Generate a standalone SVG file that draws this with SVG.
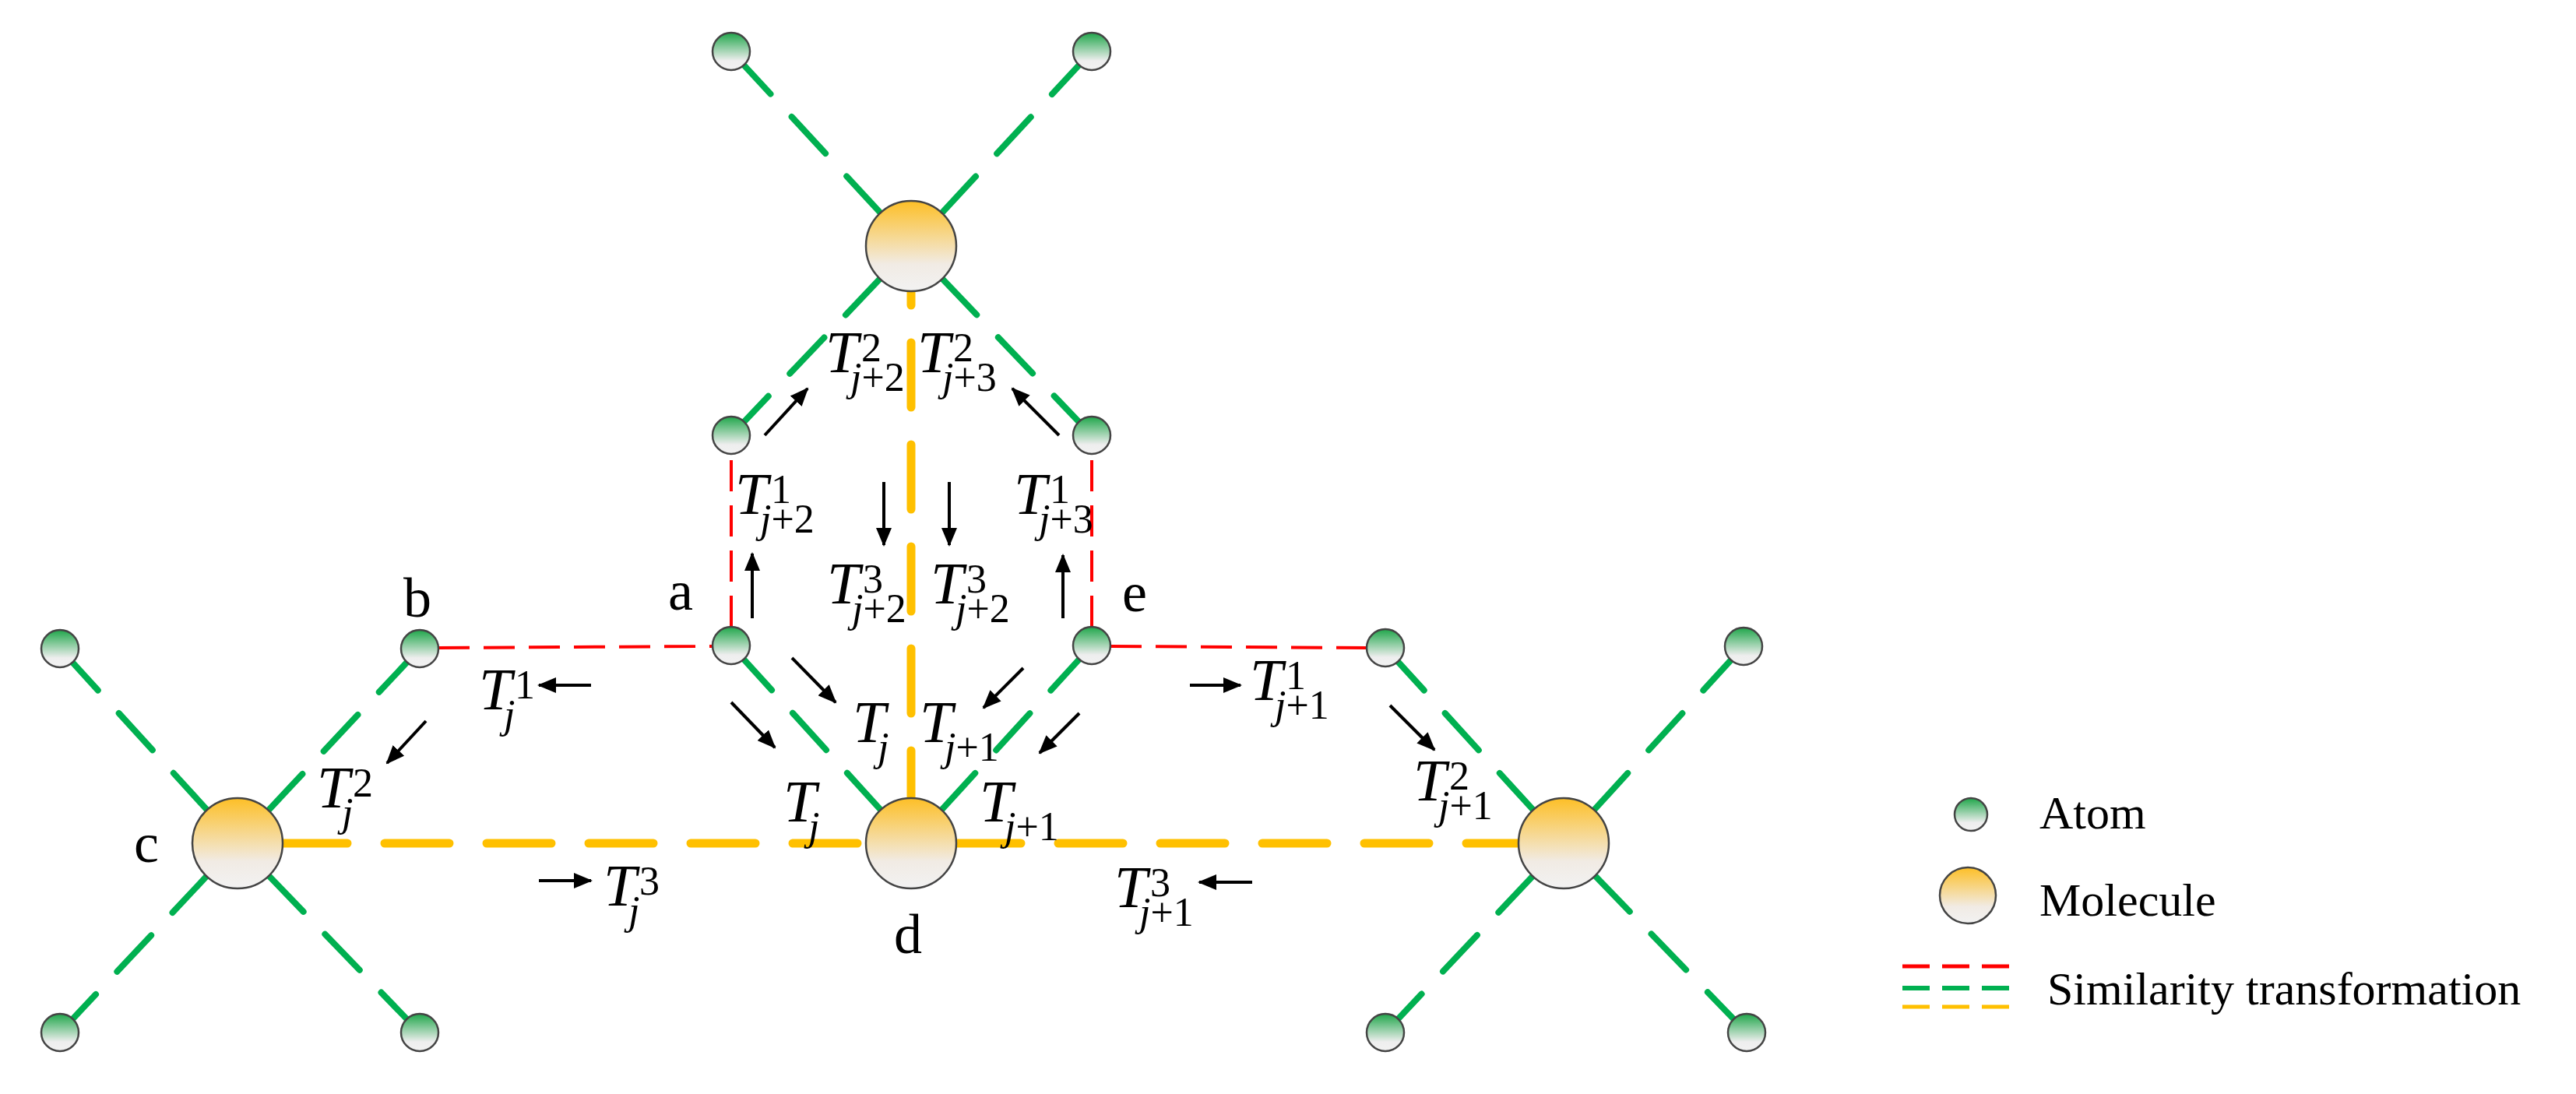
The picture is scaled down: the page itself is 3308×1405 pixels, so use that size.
<svg xmlns="http://www.w3.org/2000/svg" width="3308" height="1405" viewBox="0 0 3308 1405">
<style>
.g{stroke:#00b050;stroke-width:8;stroke-linecap:round;stroke-dasharray:64 40;stroke-dashoffset:46;fill:none}
.o{stroke:#ffc000;stroke-width:11;stroke-linecap:round;stroke-dasharray:83 48;fill:none}
.r{stroke:#ff0000;stroke-width:4;stroke-dasharray:40 18;fill:none}
.ar{stroke:#000;stroke-width:4;fill:none;marker-end:url(#ah)}
.atom{fill:url(#ga);stroke:#444;stroke-width:2.5}
.mol{fill:url(#gm);stroke:#444;stroke-width:2.5}
text{font-family:"Liberation Serif","Times New Roman",serif;fill:#000}
.T{font-size:76px;font-style:italic}
.s{font-size:52px;font-style:normal}
.si{font-size:52px;font-style:italic}
.lb{font-size:72px}
.lg{font-size:60px}
</style>
<defs>
<linearGradient id="ga" x1="0" y1="0" x2="0" y2="1"><stop offset="0" stop-color="#1fa64a"/><stop offset="0.75" stop-color="#eeeeee"/><stop offset="1" stop-color="#f2f2f2"/></linearGradient>
<linearGradient id="gm" x1="0" y1="0" x2="0" y2="1"><stop offset="0" stop-color="#fdbf26"/><stop offset="0.7" stop-color="#f1ebe4"/><stop offset="1" stop-color="#f2f2f2"/></linearGradient>
<marker id="ah" markerUnits="userSpaceOnUse" markerWidth="24" markerHeight="20" refX="22" refY="10" orient="auto"><path d="M0,0 L24,10 L0,20 Z" fill="#000"/></marker>
</defs>
<g id="connectors">
<line class="g" x1="305" y1="1083" x2="77" y2="833"/>
<line class="g" x1="305" y1="1083" x2="539" y2="833"/>
<line class="g" x1="305" y1="1083" x2="77" y2="1326"/>
<line class="g" x1="305" y1="1083" x2="539" y2="1326"/>
<line class="g" x1="1170" y1="316" x2="939" y2="66"/>
<line class="g" x1="1170" y1="316" x2="1402" y2="66"/>
<line class="g" x1="1170" y1="316" x2="939" y2="559"/>
<line class="g" x1="1170" y1="316" x2="1402" y2="559"/>
<line class="g" x1="1170" y1="1083" x2="939" y2="829"/>
<line class="g" x1="1170" y1="1083" x2="1402" y2="829"/>
<line class="g" x1="2008" y1="1083" x2="1779" y2="832"/>
<line class="g" x1="2008" y1="1083" x2="2239" y2="830"/>
<line class="g" x1="2008" y1="1083" x2="1779" y2="1326"/>
<line class="g" x1="2008" y1="1083" x2="2243" y2="1326"/>
<line class="o" x1="1170" y1="374" x2="1170" y2="1025" style="stroke-dashoffset:65"/>
<line class="o" x1="363" y1="1083" x2="1112" y2="1083"/>
<line class="o" x1="1228" y1="1083" x2="1950" y2="1083"/>
<line class="r" x1="563" y1="832" x2="915" y2="830"/>
<line class="r" x1="939" y1="805" x2="939" y2="583"/>
<line class="r" x1="1402" y1="805" x2="1402" y2="583"/>
<line class="r" x1="1426" y1="830" x2="1757" y2="832"/>
<line class="ar" x1="759" y1="880" x2="692" y2="880"/>
<line class="ar" x1="547" y1="926" x2="497" y2="980"/>
<line class="ar" x1="692" y1="1131" x2="759" y2="1131"/>
<line class="ar" x1="966" y1="794" x2="966" y2="711"/>
<line class="ar" x1="1017" y1="845" x2="1073" y2="902"/>
<line class="ar" x1="939" y1="902" x2="995" y2="960"/>
<line class="ar" x1="982" y1="559" x2="1037" y2="499"/>
<line class="ar" x1="1360" y1="559" x2="1300" y2="499"/>
<line class="ar" x1="1135" y1="619" x2="1135" y2="700"/>
<line class="ar" x1="1219" y1="619" x2="1219" y2="700"/>
<line class="ar" x1="1365" y1="794" x2="1365" y2="713"/>
<line class="ar" x1="1314" y1="858" x2="1263" y2="909"/>
<line class="ar" x1="1386" y1="916" x2="1335" y2="967"/>
<line class="ar" x1="1528" y1="880" x2="1593" y2="880"/>
<line class="ar" x1="1785" y1="906" x2="1842" y2="963"/>
<line class="ar" x1="1608" y1="1133" x2="1540" y2="1133"/>
</g>
<g id="mol-c"><circle class="mol" cx="305" cy="1083" r="58"/></g>
<g id="mol-top"><circle class="mol" cx="1170" cy="316" r="58"/></g>
<g id="mol-d"><circle class="mol" cx="1170" cy="1083" r="58"/></g>
<g id="mol-right"><circle class="mol" cx="2008" cy="1083" r="58"/></g>
<g id="atom-1"><circle class="atom" cx="77" cy="833" r="24"/></g>
<g id="atom-b"><circle class="atom" cx="539" cy="833" r="24"/></g>
<g id="atom-3"><circle class="atom" cx="77" cy="1326" r="24"/></g>
<g id="atom-4"><circle class="atom" cx="539" cy="1326" r="24"/></g>
<g id="atom-5"><circle class="atom" cx="939" cy="66" r="24"/></g>
<g id="atom-6"><circle class="atom" cx="1402" cy="66" r="24"/></g>
<g id="atom-7"><circle class="atom" cx="939" cy="559" r="24"/></g>
<g id="atom-8"><circle class="atom" cx="1402" cy="559" r="24"/></g>
<g id="atom-a"><circle class="atom" cx="939" cy="829" r="24"/></g>
<g id="atom-e"><circle class="atom" cx="1402" cy="829" r="24"/></g>
<g id="atom-11"><circle class="atom" cx="1779" cy="832" r="24"/></g>
<g id="atom-12"><circle class="atom" cx="2239" cy="830" r="24"/></g>
<g id="atom-13"><circle class="atom" cx="1779" cy="1326" r="24"/></g>
<g id="atom-14"><circle class="atom" cx="2243" cy="1326" r="24"/></g>
<g id="labels">
<text class="lb" x="858" y="783">a</text>
<text class="lb" x="518" y="792">b</text>
<text class="lb" x="172" y="1107">c</text>
<text class="lb" x="1148" y="1224">d</text>
<text class="lb" x="1441" y="785">e</text>
<text class="T" x="1060" y="478">T</text><text class="s" x="1106" y="464">2</text><text class="si" x="1092" y="502">j<tspan class="s">+2</tspan></text>
<text class="T" x="1178" y="478">T</text><text class="s" x="1224" y="464">2</text><text class="si" x="1210" y="502">j<tspan class="s">+3</tspan></text>
<text class="T" x="944" y="660">T</text><text class="s" x="990" y="646">1</text><text class="si" x="976" y="684">j<tspan class="s">+2</tspan></text>
<text class="T" x="1302" y="660">T</text><text class="s" x="1348" y="646">1</text><text class="si" x="1334" y="684">j<tspan class="s">+3</tspan></text>
<text class="T" x="1062" y="775">T</text><text class="s" x="1108" y="761">3</text><text class="si" x="1094" y="799">j<tspan class="s">+2</tspan></text>
<text class="T" x="1195" y="775">T</text><text class="s" x="1241" y="761">3</text><text class="si" x="1227" y="799">j<tspan class="s">+2</tspan></text>
<text class="T" x="1095" y="953">T</text><text class="si" x="1127" y="977">j</text>
<text class="T" x="1181" y="953">T</text><text class="si" x="1213" y="977">j<tspan class="s">+1</tspan></text>
<text class="T" x="1605" y="899">T</text><text class="s" x="1651" y="885">1</text><text class="si" x="1637" y="923">j<tspan class="s">+1</tspan></text>
<text class="T" x="1006" y="1055">T</text><text class="si" x="1038" y="1079">j</text>
<text class="T" x="1258" y="1055">T</text><text class="si" x="1290" y="1079">j<tspan class="s">+1</tspan></text>
<text class="T" x="615" y="911">T</text><text class="s" x="661" y="897">1</text><text class="si" x="647" y="935">j</text>
<text class="T" x="407" y="1037">T</text><text class="s" x="453" y="1023">2</text><text class="si" x="439" y="1061">j</text>
<text class="T" x="775" y="1163">T</text><text class="s" x="821" y="1149">3</text><text class="si" x="807" y="1187">j</text>
<text class="T" x="1815" y="1028">T</text><text class="s" x="1861" y="1014">2</text><text class="si" x="1847" y="1052">j<tspan class="s">+1</tspan></text>
<text class="T" x="1431" y="1165">T</text><text class="s" x="1477" y="1151">3</text><text class="si" x="1463" y="1189">j<tspan class="s">+1</tspan></text>
</g>
<g id="legend">
<circle class="atom" cx="2531" cy="1046" r="21"/>
<text class="lg" x="2619" y="1064">Atom</text>
<circle class="mol" cx="2527" cy="1150" r="36"/>
<text class="lg" x="2619" y="1176">Molecule</text>
<line x1="2443" y1="1241" x2="2581" y2="1241" stroke="#ff0000" stroke-width="5" stroke-dasharray="35 16"/>
<line x1="2443" y1="1269" x2="2581" y2="1269" stroke="#00b050" stroke-width="6" stroke-dasharray="35 16"/>
<line x1="2443" y1="1293" x2="2581" y2="1293" stroke="#ffc000" stroke-width="5" stroke-dasharray="35 16"/>
<text class="lg" x="2629" y="1290">Similarity transformation</text>
</g>
</svg>
